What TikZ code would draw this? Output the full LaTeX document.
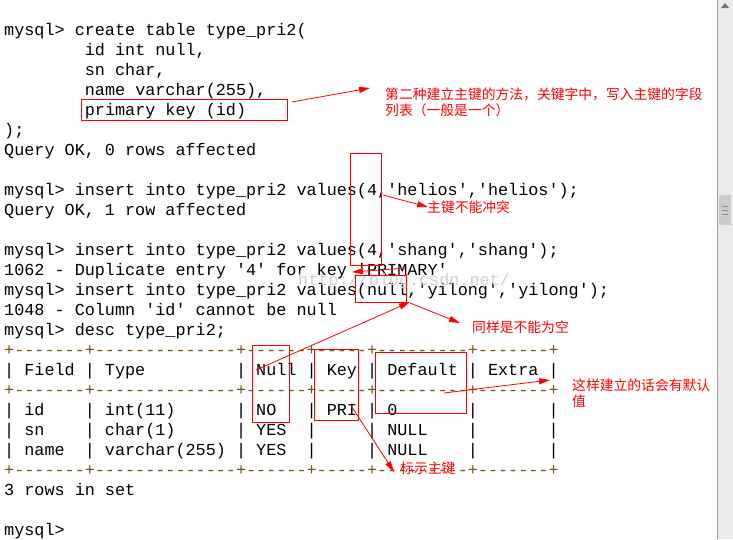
\documentclass[tikz,border=0pt]{standalone}
\usepackage{fontspec}
\setmonofont{Liberation Mono}
\newfontfamily\cjk{Noto Sans CJK SC}
\usetikzlibrary{arrows.meta}
\definecolor{termred}{RGB}{255,0,0}
\definecolor{tbl}{RGB}{120,80,20}
\begin{document}
\begin{tikzpicture}[x=1pt,y=-1pt,
  term/.style={anchor=base west,inner sep=0pt,font=\fontsize{16.8}{20}\ttfamily,text=black},
  tline/.style={term,text=tbl},
  ann/.style={anchor=west,inner sep=0pt,font=\fontsize{13.8}{16}\cjk,text=termred,align=left},
  rbox/.style={draw=termred,line width=0.8pt},
  rarr/.style={draw=termred,line width=0.8pt,-{Triangle[length=11pt,width=6pt]}}]
\useasboundingbox (0,0) rectangle (733,539);
\fill[white] (0,0) rectangle (733,539);
% scrollbar
\fill[black!8] (717,0) rectangle (733,539);
\draw[black!40] (717,0) -- (717,539);
\fill[black!20] (719,195) rectangle (731,225);
\draw[black!45] (722,210) -- (728,210) (722,214)--(728,214) (722,206)--(728,206);
\fill[black!55] (721,8) -- (729,8) -- (725,3) -- cycle;
% terminal text
\foreach \i/\t in {0/{mysql>~create~table~type\_pri2(},1/{~~~~~~~~id~int~null,},2/{~~~~~~~~sn~char,},3/{~~~~~~~~name~varchar(255),},4/{~~~~~~~~primary~key~(id)},5/{);},6/{Query~OK,~0~rows~affected},8/{mysql>~insert~into~type\_pri2~values(4,'helios','helios');},9/{Query~OK,~1~row~affected},11/{mysql>~insert~into~type\_pri2~values(4,'shang','shang');},12/{1062~-~Duplicate~entry~'4'~for~key~'PRIMARY'},13/{mysql>~insert~into~type\_pri2~values(null,'yilong','yilong');},14/{1048~-~Column~'id'~cannot~be~null},15/{mysql>~desc~type\_pri2;},17/{|~Field~|~Type~~~~~~~~~|~Null~|~Key~|~Default~|~Extra~|},19/{|~id~~~~|~int(11)~~~~~~|~NO~~~|~PRI~|~0~~~~~~~|~~~~~~~|},20/{|~sn~~~~|~char(1)~~~~~~|~YES~~|~~~~~|~NULL~~~~|~~~~~~~|},21/{|~name~~|~varchar(255)~|~YES~~|~~~~~|~NULL~~~~|~~~~~~~|},23/{3~rows~in~set},25/{mysql>}}
  \node[term] (l\i) at (4,{35+20*\i}) {\t};
\foreach \i in {16,18,22}
  \node[tline] (b\i) at (4,{35+20*\i}) {+-------+--------------+------+-----+---------+-------+};
\node[anchor=base west,inner sep=0pt,font=\fontsize{16.8}{20}\ttfamily,text=black!18] (wm) at (298,285) {http://blog.csdn.net/};
% red boxes
\draw[rbox] (81,99) rectangle (287,120);
\draw[rbox] (350,153) rectangle (381,265);
\draw[rbox] (355,275) rectangle (406,302);
\draw[rbox] (252,345) rectangle (289,422);
\draw[rbox] (314,349) rectangle (358,420);
\draw[rbox] (375,352) rectangle (466,413);
% annotations
\node[ann] (a1) at (385,102) {第二种建立主键的方法，关键字中，写入主键的字段\\列表（一般是一个）};
\node[ann] (a2) at (427,207) {主键不能冲突};
\node[ann] (a3) at (472,327) {同样是不能为空};
\node[ann] (a4) at (572,393) {这样建立的话会有默认\\值};
\node[ann] (a5) at (400,468) {标示主键};
\coordinate (s1) at (292,102); \coordinate (e1) at (370,88);
\coordinate (s2) at (383,195); \coordinate (e2) at (428,207);
\coordinate (s3) at (407,268); \coordinate (e3) at (352,272);
\coordinate (s4) at (410,303); \coordinate (e4) at (460,323);
\coordinate (s5) at (256,370); \coordinate (e5) at (410,302);
\coordinate (s6) at (444,393); \coordinate (e6) at (550,380);
\coordinate (s7) at (350,404); \coordinate (e7) at (394,472);
\foreach \k in {1,...,7} \draw[rarr] (s\k) -- (e\k);
\end{tikzpicture}
\end{document}
